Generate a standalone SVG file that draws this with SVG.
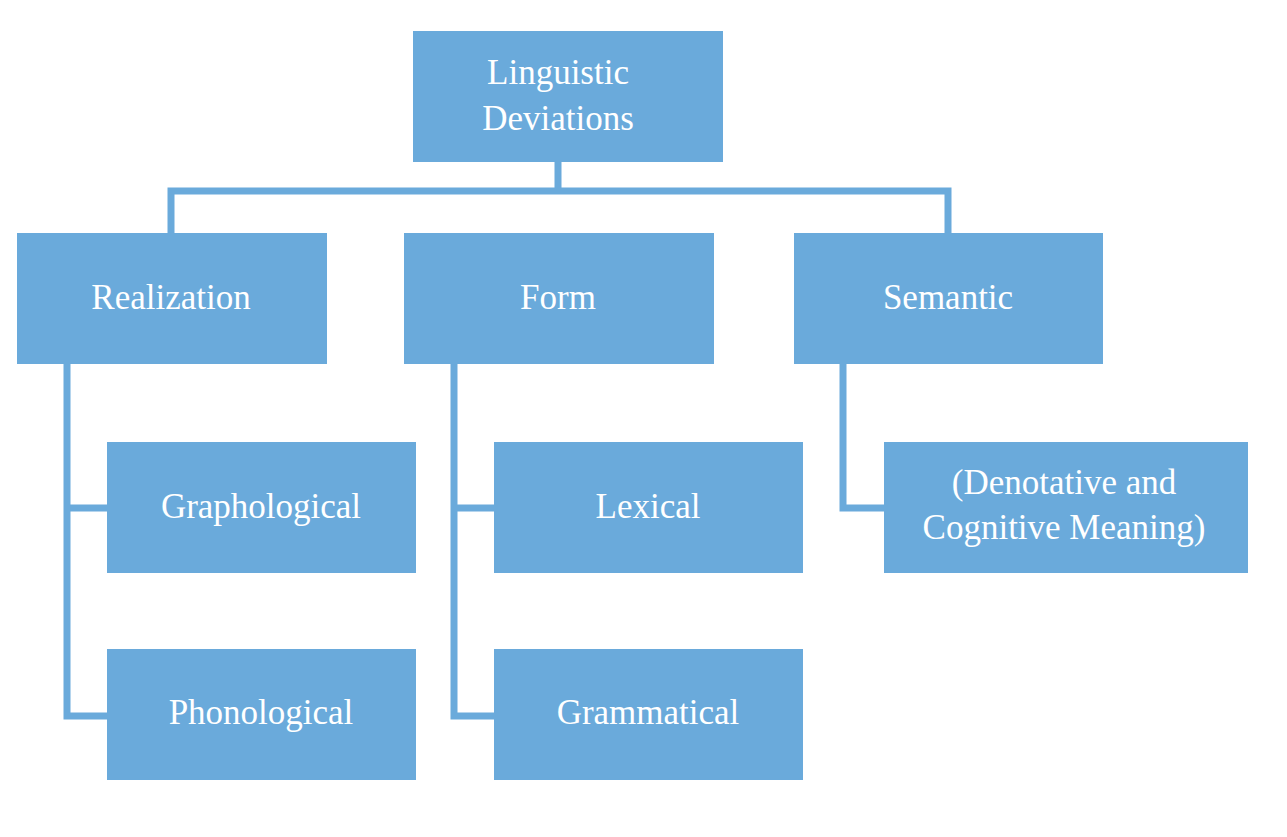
<svg xmlns="http://www.w3.org/2000/svg" width="1287" height="837" viewBox="0 0 1287 837">
<style>
.box{fill:#6aaadb}
.t{fill:#fff;font-family:"Liberation Serif",serif;font-size:35px;text-anchor:middle}
.c{stroke:#6aaadb;stroke-width:7;fill:none}
</style>
<rect width="1287" height="837" fill="#fff"/>
<g id="connectors">
<path class="c" d="M558 162V191M171 233V191H948V233"/>
<path class="c" d="M67 364V716H107M67 508H107"/>
<path class="c" d="M454 364V716H494M454 508H494"/>
<path class="c" d="M843 364V508H884"/>
</g>
<g id="root"><rect class="box" x="413" y="31" width="310" height="131"/><text class="t" x="558" y="84">Linguistic</text><text class="t" x="558" y="130">Deviations</text></g>
<g id="realization"><rect class="box" x="17" y="233" width="310" height="131"/><text class="t" x="171" y="309">Realization</text></g>
<g id="form"><rect class="box" x="404" y="233" width="310" height="131"/><text class="t" x="558" y="309">Form</text></g>
<g id="semantic"><rect class="box" x="794" y="233" width="309" height="131"/><text class="t" x="948" y="309">Semantic</text></g>
<g id="graphological"><rect class="box" x="107" y="442" width="309" height="131"/><text class="t" x="261" y="518">Graphological</text></g>
<g id="phonological"><rect class="box" x="107" y="649" width="309" height="131"/><text class="t" x="261" y="724">Phonological</text></g>
<g id="lexical"><rect class="box" x="494" y="442" width="309" height="131"/><text class="t" x="648" y="518">Lexical</text></g>
<g id="grammatical"><rect class="box" x="494" y="649" width="309" height="131"/><text class="t" x="648" y="724">Grammatical</text></g>
<g id="denotative"><rect class="box" x="884" y="442" width="364" height="131"/><text class="t" x="1064" y="494">(Denotative and</text><text class="t" x="1064" y="539">Cognitive Meaning)</text></g>
</svg>
